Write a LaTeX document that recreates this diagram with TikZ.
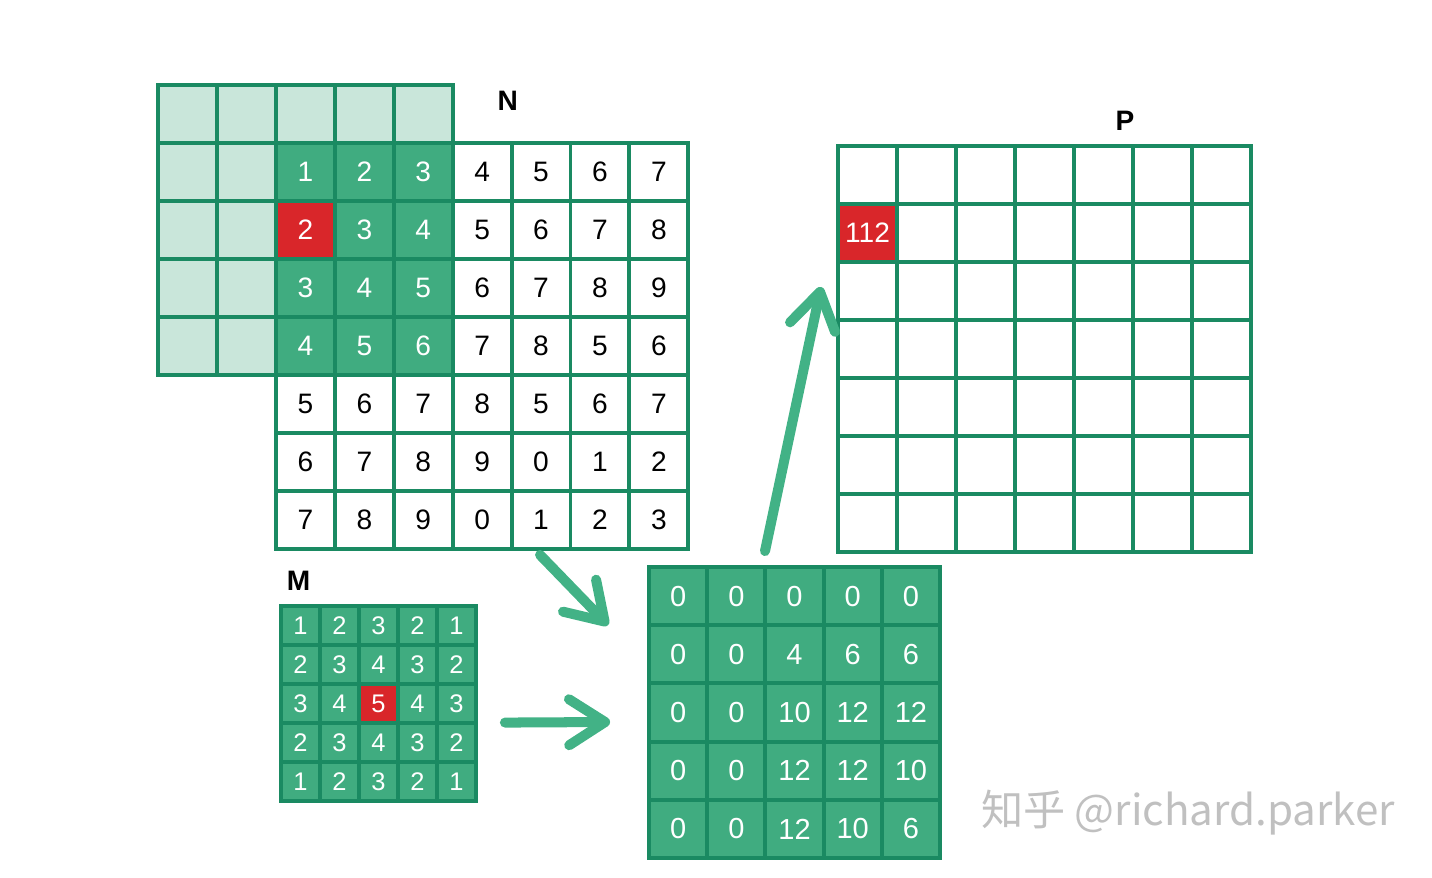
\documentclass[tikz,border=0pt]{standalone}
\usepackage{fontspec}
\setmainfont{Liberation Sans}
\newfontfamily\cjk{Noto Sans CJK SC}
\usetikzlibrary{arrows.meta}
\definecolor{edge}{RGB}{26,138,98}
\definecolor{fillg}{RGB}{64,172,128}
\definecolor{padg}{RGB}{201,230,218}
\definecolor{hot}{RGB}{217,38,42}
\definecolor{arrowg}{RGB}{66,178,134}
\definecolor{wmark}{RGB}{192,192,192}
\begin{document}
\begin{tikzpicture}[x=0.02cm,y=-0.02cm,
    every node/.style={inner sep=0pt},
    box/.style={draw=edge,line width=2.2pt,minimum width=1.178cm,minimum height=1.16cm,fill=white,font=\fontsize{16}{18}\selectfont},
    win/.style={box,fill=fillg,text=white},
    hit/.style={box,fill=hot,text=white},
    pad/.style={box,fill=padg},
    kbox/.style={draw=edge,line width=2.2pt,minimum size=0.78cm,fill=fillg,text=white,font=\fontsize{14.5}{16}\selectfont},
    obox/.style={win,minimum width=1.164cm,minimum height=1.164cm,font=\fontsize{16.5}{18}\selectfont},
    lbl/.style={font=\fontsize{16}{18}\selectfont\bfseries},
    flow/.style={draw=arrowg,line width=5.7pt,line cap=round,-{Straight Barb[round,length=0.72cm,width=0.92cm]}}]
    \useasboundingbox (0,0) rectangle (1432,878);
    % padding of N
    \foreach \c in {-2,...,2}
        \node[pad] (pad-t\c) at ({276+58.9*(\c+0.5)},{143+58*(-0.5)}) {};
    \foreach \r in {0,...,3}
        \foreach \c in {-2,-1}
            \node[pad] (pad-\r\c) at ({276+58.9*(\c+0.5)},{143+58*(\r+0.5)}) {};
    % N
    \foreach \row [count=\r from 0] in {{1,2,3,4,5,6,7},{2,3,4,5,6,7,8},{3,4,5,6,7,8,9},{4,5,6,7,8,5,6},{5,6,7,8,5,6,7},{6,7,8,9,0,1,2},{7,8,9,0,1,2,3}}
        \foreach \v [count=\c from 0] in \row {
            \tikzset{cur/.style={box}}
            \ifnum\r<4 \ifnum\c<3 \tikzset{cur/.style={win}}\fi\fi
            \ifnum\r=1 \ifnum\c=0 \tikzset{cur/.style={hit}}\fi\fi
            \node[cur] (n-\r-\c) at ({276+58.9*(\c+0.5)},{143+58*(\r+0.5)}) {\v};
        }
    \node[lbl] (labN) at ([shift={(-2,-40)}]n-0-4.north west) {N};
    % M
    \foreach \row [count=\r from 0] in {{1,2,3,2,1},{2,3,4,3,2},{3,4,5,4,3},{2,3,4,3,2},{1,2,3,2,1}}
        \foreach \v [count=\c from 0] in \row
            \node[kbox] (m-\r-\c) at ({281+39*(\c+0.5)},{606+39*(\r+0.5)}) {\v};
    \node[kbox,fill=hot] at (m-2-2) {5};
    \node[lbl] (labM) at ([shift={(-2,-23)}]m-0-0.north) {M};
    % result
    \foreach \row [count=\r from 0] in {{0,0,0,0,0},{0,0,4,6,6},{0,0,10,12,12},{0,0,12,12,10},{0,0,12,10,6}}
        \foreach \v [count=\c from 0] in \row
            \node[obox] (r-\r-\c) at ({649+58.2*(\c+0.5)},{567+58.2*(\r+0.5)}) {\v};
    % P
    \foreach \r in {0,...,6}
        \foreach \c in {0,...,6}
            \node[box,minimum width=1.18cm] (p-\r-\c) at ({838+59*(\c+0.5)},{146+58*(\r+0.5)}) {};
    \node[hit,minimum width=1.18cm] at (p-1-0) {112};
    \node[lbl] (labP) at ([shift={(-6,-23)}]p-0-5.north west) {P};
    % arrows
    \draw[flow] ([shift={(-1,4)}]n-6-4.south) -- ([shift={(-39,-2)}]r-0-0.south west);
    \draw[flow] ([shift={(27,1.5)}]m-3-4.north east) -- ([shift={(-37,9.5)}]r-2-0.west);
    \draw[flow] ([shift={(-29.5,-14)}]r-0-2.north) -- ([shift={(-15,-4)}]p-2-0.west);
    \node[text=wmark,font=\cjk\fontsize{24}{27}\selectfont] (wm) at (1188,813) {知乎 @richard.parker};
\end{tikzpicture}
\end{document}
